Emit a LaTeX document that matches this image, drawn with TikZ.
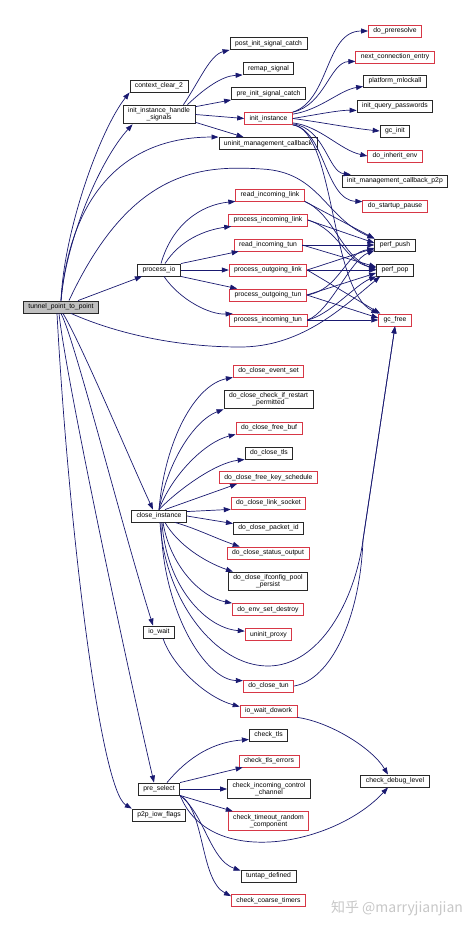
\documentclass[tikz,border=0pt]{standalone}
\usepackage{fontspec}
\setmainfont{Liberation Sans}
\newfontfamily\cjkfont{Noto Sans CJK SC}
\usetikzlibrary{arrows.meta}
\definecolor{edgeblue}{RGB}{25,25,112}
\definecolor{boxred}{RGB}{215,55,70}
\definecolor{boxgray}{RGB}{191,191,191}
\definecolor{boxline}{RGB}{40,40,40}
\begin{document}
\begin{tikzpicture}[x=1pt,y=-1pt]
        \tikzstyle{fn}=[draw=boxline, line width=0.9pt, font=\fontsize{6.8}{7.4}\selectfont, inner xsep=5pt, inner ysep=2.5pt, minimum height=12pt, align=center]
        \tikzstyle{fnred}=[fn, draw=boxred, line width=0.75pt]
        \tikzstyle{calls}=[draw=edgeblue, line width=0.7pt, -{Triangle[length=7pt,width=5pt]}]
        \useasboundingbox (0,0) rectangle (474,929);
        \node[fn, fill=boxgray] (t) at (61,307) {tunnel\_point\_to\_point};
        \node[fn] (cc) at (159,86) {context\_clear\_2};
        \node[fn] (ih) at (159,114.5) {init\_instance\_handle\\\_signals};
        \node[fn] (um) at (268,143.5) {uninit\_management\_callback};
        \node[fn] (po) at (268.5,43.5) {post\_init\_signal\_catch};
        \node[fn] (rs) at (268.5,68.5) {remap\_signal};
        \node[fn] (pr) at (268.5,93.5) {pre\_init\_signal\_catch};
        \node[fnred] (ii) at (268.5,118.5) {init\_instance};
        \node[fnred] (dp) at (395,31) {do\_preresolve};
        \node[fnred] (nc) at (395,57) {next\_connection\_entry};
        \node[fn] (pm) at (395,81) {platform\_mlockall};
        \node[fn] (iq) at (395,106) {init\_query\_passwords};
        \node[fn] (gi) at (395,131) {gc\_init};
        \node[fnred] (de) at (395,156) {do\_inherit\_env};
        \node[fn] (im) at (395,181) {init\_management\_callback\_p2p};
        \node[fnred] (ds) at (395,206) {do\_startup\_pause};
        \node[fn] (pio) at (159,270) {process\_io};
        \node[fnred] (ril) at (270,195) {read\_incoming\_link};
        \node[fnred] (pil) at (268,220) {process\_incoming\_link};
        \node[fnred] (rit) at (268,245) {read\_incoming\_tun};
        \node[fnred] (pol) at (268,270) {process\_outgoing\_link};
        \node[fnred] (pot) at (268,295) {process\_outgoing\_tun};
        \node[fnred] (pit) at (268,320) {process\_incoming\_tun};
        \node[fn] (pp) at (395,245) {perf\_push};
        \node[fn] (pq) at (395,270) {perf\_pop};
        \node[fnred] (gf) at (395,320) {gc\_free};
        \node[fn] (ci) at (159,516) {close\_instance};
        \node[fnred] (ces) at (268.5,371) {do\_close\_event\_set};
        \node[fn] (cir) at (268.5,399.5) {do\_close\_check\_if\_restart\\\_permitted};
        \node[fnred] (cfb) at (269,428) {do\_close\_free\_buf};
        \node[fn] (ctl) at (269,453) {do\_close\_tls};
        \node[fnred] (cfk) at (268.5,477.5) {do\_close\_free\_key\_schedule};
        \node[fnred] (cls) at (268.5,503) {do\_close\_link\_socket};
        \node[fn] (cpi) at (268.5,528) {do\_close\_packet\_id};
        \node[fnred] (cso) at (268,553) {do\_close\_status\_output};
        \node[fn] (cip) at (268,581.5) {do\_close\_ifconfig\_pool\\\_persist};
        \node[fnred] (esd) at (268,609.5) {do\_env\_set\_destroy};
        \node[fnred] (up) at (268.5,634.5) {uninit\_proxy};
        \node[fnred] (ctun) at (268.5,686) {do\_close\_tun};
        \node[fn] (iw) at (159,632) {io\_wait};
        \node[fnred] (iwd) at (268.5,711) {io\_wait\_dowork};
        \node[fn] (ps) at (159,789) {pre\_select};
        \node[fn] (ct) at (268.5,735) {check\_tls};
        \node[fnred] (cte) at (269,761) {check\_tls\_errors};
        \node[fn] (cic) at (269,789) {check\_incoming\_control\\\_channel};
        \node[fnred] (ctr) at (268.5,821) {check\_timeout\_random\\\_component};
        \node[fn] (cdl) at (395,781) {check\_debug\_level};
        \node[fn] (p2p) at (159,815) {p2p\_iow\_flags};
        \node[fn] (td) at (268.5,876) {tuntap\_defined};
        \node[fnred] (ctm) at (268.5,900.5) {check\_coarse\_timers};
        \node[text=black!22, font=\cjkfont\fontsize{14}{14}\selectfont] (wm) at (397,908) {知乎 @marryjianjian};
        \draw[calls] (t.north) .. controls (64,230) and (100,130) .. (cc.south west);
        \draw[calls] (t.north) .. controls (66,240) and (100,160) .. ([xshift=10pt]ih.south west);
        \draw[calls] (t.north) .. controls (70,200) and (120,137) .. (um.north west);
        \draw[calls] ([xshift=8pt]t.north) .. controls (130,170) and (200,165) .. (262,169) .. controls (320,172) and (325,218) .. (pp.north west);
        \draw[calls] (t) -- (pio);
        \draw[calls] ([xshift=10pt]t.south) .. controls (120,335) and (180,347) .. (240,347) .. controls (300,347) and (340,310) .. ([xshift=4pt]pq.south west);
        \draw[calls] ([xshift=2pt]t.south) .. controls (82,345) and (130,460) .. ([xshift=-6pt]ci.north);
        \draw[calls] (t.south) .. controls (75,340) and (120,520) .. ([xshift=-6pt]iw.north);
        \draw[calls] ([xshift=-2pt]t.south) .. controls (66,380) and (130,680) .. ([xshift=-5pt]ps.north);
        \draw[calls] ([xshift=-4pt]t.south) .. controls (68,520) and (100,790) .. (p2p.north west);
        \draw[calls] ([xshift=-12pt]ih.north east) .. controls (200,80) and (210,55) .. (po.south west);
        \draw[calls] ([xshift=-8pt]ih.north east) .. controls (205,88) and (222,76) .. (rs.south west);
        \draw[calls] ([yshift=-2pt]ih.north east) -- (pr.south west);
        \draw[calls] (ih.east) -- (ii.west);
        \draw[calls] ([yshift=2pt]ih.south east) -- ([xshift=25pt]um.north west);
        \draw[calls] (ii.north east) .. controls (330,100) and (325,31) .. (dp.west);
        \draw[calls] (ii.north east) .. controls (325,105) and (330,62) .. ([yshift=2pt]nc.south west);
        \draw[calls] ([yshift=-2pt]ii.north east) .. controls (320,110) and (340,90) .. ([yshift=1pt]pm.south west);
        \draw[calls] (ii.east) .. controls (320,114) and (340,110) .. ([yshift=2pt]iq.south west);
        \draw[calls] (ii.east) .. controls (320,122) and (350,128) .. (gi.west);
        \draw[calls] ([yshift=2pt]ii.south east) .. controls (320,126) and (340,150) .. (de.west);
        \draw[calls] ([yshift=1pt]ii.south east) .. controls (325,128) and (328,172) .. ([xshift=9pt]im.north west);
        \draw[calls] (ii.south east) .. controls (325,130) and (325,200) .. ([yshift=-2pt]ds.north west);
        \draw[calls] (ii.south east) .. controls (335,130) and (330,290) .. (gf.north west);
        \draw[calls] ([xshift=2pt]pio.north) .. controls (172,225) and (200,205) .. (ril.south west);
        \draw[calls] ([xshift=6pt]pio.north) .. controls (180,240) and (205,230) .. ([xshift=3pt]pil.south west);
        \draw[calls] (pio.north east) -- ([xshift=5pt]rit.south west);
        \draw[calls] (pio.east) -- (pol.west);
        \draw[calls] (pio.south east) -- ([xshift=8pt]pot.north west);
        \draw[calls] ([xshift=5pt]pio.south) .. controls (180,300) and (210,315) .. ([xshift=4pt]pit.north west);
        \draw[calls] (ril.south east) -- (pp.north west);
        \draw[calls] (ril.south east) .. controls (335,215) and (340,255) .. (pq.west);
        \draw[calls] (pil.east) -- ([yshift=2pt]pp.west);
        \draw[calls] (pil.east) .. controls (340,230) and (345,262) .. ([yshift=2pt]pq.west);
        \draw[calls] (rit.east) -- (pp.west);
        \draw[calls] (rit.east) -- ([yshift=3pt]pq.west);
        \draw[calls] (pol.east) -- ([yshift=-3pt]pp.west);
        \draw[calls] (pol.east) -- (pq.west);
        \draw[calls] (pol.east) -- ([xshift=2pt]gf.north west);
        \draw[calls] (pot.east) .. controls (340,290) and (345,252) .. ([yshift=-4pt]pp.west);
        \draw[calls] (pot.east) -- ([yshift=-3pt]pq.west);
        \draw[calls] (pot.east) -- ([yshift=2pt]gf.west);
        \draw[calls] (pit.east) .. controls (330,312) and (350,260) .. ([yshift=1pt]pp.south west);
        \draw[calls] (pit.east) .. controls (330,315) and (355,285) .. (pq.south west);
        \draw[calls] (pit.east) -- (gf.west);
        \draw[calls] (ci.north) .. controls (165,440) and (195,385) .. (ces.south west);
        \draw[calls] (ci.north) .. controls (168,460) and (195,420) .. (cir.south west);
        \draw[calls] (ci.north) .. controls (172,475) and (205,442) .. (cfb.south west);
        \draw[calls] (ci.north) .. controls (178,490) and (215,463) .. (ctl.south west);
        \draw[calls] ([xshift=6pt]ci.north) -- ([xshift=18pt]cfk.south west);
        \draw[calls] ([yshift=-2pt]ci.north east) -- (cls.south west);
        \draw[calls] (ci.east) -- ([yshift=-2pt]cpi.north west);
        \draw[calls] ([xshift=-12pt]ci.south east) .. controls (195,528) and (215,538) .. ([xshift=13pt]cso.north west);
        \draw[calls] ([xshift=6pt]ci.south) .. controls (178,545) and (205,562) .. ([xshift=5pt]cip.north west);
        \draw[calls] ([xshift=4pt]ci.south) .. controls (170,565) and (200,597) .. (esd.north west);
        \draw[calls] ([xshift=3pt]ci.south) .. controls (166,585) and (205,628) .. ([yshift=-3pt]up.north west);
        \draw[calls] ([xshift=2pt]ci.south) .. controls (162,610) and (205,680) .. ([yshift=-1pt]ctun.north west);
        \draw[calls] ([xshift=1pt]ci.south) .. controls (165,600) and (215,666) .. (268,666) .. controls (320,666) and (355,600) .. (363,540) -- (gf.south);
        \draw[calls] (ctun.east) .. controls (330,680) and (360,620) .. (363,540) -- (gf.south);
        \draw[calls] ([xshift=4pt]iw.south) .. controls (172,665) and (205,697) .. ([yshift=-2pt]iwd.north west);
        \draw[calls] (iwd.south east) .. controls (330,722) and (372,748) .. ([xshift=-7pt]cdl.north);
        \draw[calls] ([xshift=8pt]ps.north) .. controls (190,755) and (215,742) .. ([yshift=2pt]ct.south west);
        \draw[calls] (ps.north east) -- ([xshift=4pt]cte.south west);
        \draw[calls] (ps.east) -- (cic.west);
        \draw[calls] (ps.south east) -- ([xshift=5pt]ctr.north west);
        \draw[calls] (ps.south east) .. controls (210,870) and (335,845) .. ([xshift=-7pt]cdl.south);
        \draw[calls] (ps.south east) .. controls (205,815) and (210,860) .. ([yshift=-1pt]td.north west);
        \draw[calls] (ps.south east) .. controls (205,810) and (200,880) .. ([yshift=-2pt]ctm.north west);
\end{tikzpicture}
\end{document}
